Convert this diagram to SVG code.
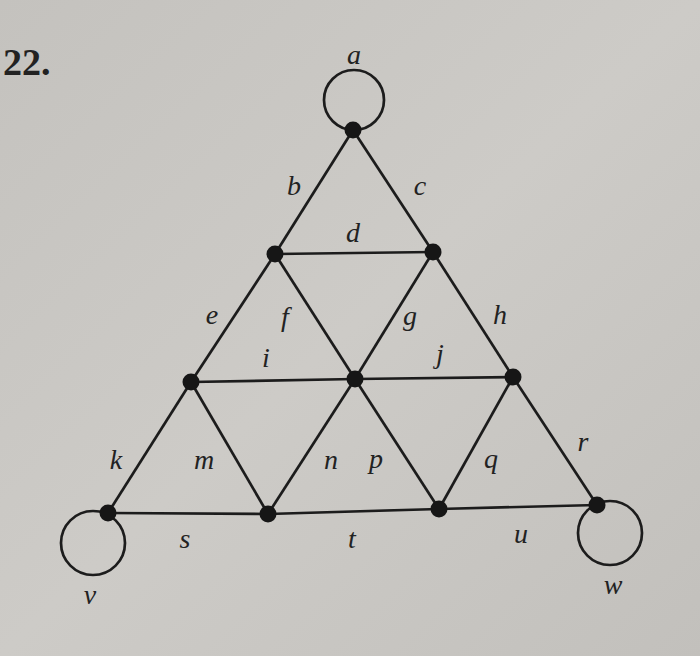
<svg xmlns="http://www.w3.org/2000/svg" width="700" height="656" viewBox="0 0 700 656">
<defs>
<linearGradient id="bg" x1="0" y1="0" x2="1" y2="1">
<stop offset="0" stop-color="#c4c2be"/>
<stop offset="0.5" stop-color="#cdcbc7"/>
<stop offset="1" stop-color="#c2c0bc"/>
</linearGradient>
<style>
.e{stroke:#1c1c1c;stroke-width:2.7;fill:none}
.n{fill:#161616}
.l{font-family:"Liberation Serif",serif;font-style:italic;font-size:28px;fill:#222;text-anchor:middle}
.t{font-family:"Liberation Serif",serif;font-weight:bold;font-size:38px;fill:#222}
</style>
</defs>
<rect width="700" height="656" fill="url(#bg)"/>
<text class="t" x="3" y="75">22.</text>
<g id="edges">
<circle class="e" cx="354" cy="100" r="30"/>
<line class="e" x1="353" y1="130" x2="275" y2="254"/>
<line class="e" x1="353" y1="130" x2="433" y2="252"/>
<line class="e" x1="275" y1="254" x2="433" y2="252"/>
<line class="e" x1="275" y1="254" x2="191" y2="382"/>
<line class="e" x1="275" y1="254" x2="355" y2="379"/>
<line class="e" x1="433" y1="252" x2="355" y2="379"/>
<line class="e" x1="433" y1="252" x2="513" y2="377"/>
<line class="e" x1="191" y1="382" x2="355" y2="379"/>
<line class="e" x1="355" y1="379" x2="513" y2="377"/>
<line class="e" x1="191" y1="382" x2="108" y2="513"/>
<line class="e" x1="191" y1="382" x2="268" y2="514"/>
<line class="e" x1="355" y1="379" x2="268" y2="514"/>
<line class="e" x1="355" y1="379" x2="439" y2="509"/>
<line class="e" x1="513" y1="377" x2="439" y2="509"/>
<line class="e" x1="513" y1="377" x2="597" y2="505"/>
<line class="e" x1="108" y1="513" x2="268" y2="514"/>
<line class="e" x1="268" y1="514" x2="439" y2="509"/>
<line class="e" x1="439" y1="509" x2="597" y2="505"/>
<circle class="e" cx="93" cy="543" r="32"/>
<circle class="e" cx="610" cy="533" r="32"/>
</g>
<g id="n1"><circle class="n" cx="353" cy="130" r="8.5"/></g>
<g id="n2"><circle class="n" cx="275" cy="254" r="8.5"/></g>
<g id="n3"><circle class="n" cx="433" cy="252" r="8.5"/></g>
<g id="n4"><circle class="n" cx="191" cy="382" r="8.5"/></g>
<g id="n5"><circle class="n" cx="355" cy="379" r="8.5"/></g>
<g id="n6"><circle class="n" cx="513" cy="377" r="8.5" fill="#2a2a2a"/></g>
<g id="n7"><circle class="n" cx="108" cy="513" r="8.5"/></g>
<g id="n8"><circle class="n" cx="268" cy="514" r="8.5"/></g>
<g id="n9"><circle class="n" cx="439" cy="509" r="8.5"/></g>
<g id="n10"><circle class="n" cx="597" cy="505" r="8.5"/></g>
<g id="labels">
<text class="l" x="354" y="64">a</text>
<text class="l" x="294" y="195">b</text>
<text class="l" x="420" y="195">c</text>
<text class="l" x="353" y="242">d</text>
<text class="l" x="212" y="324">e</text>
<text class="l" x="285" y="326">f</text>
<text class="l" x="266" y="367">i</text>
<text class="l" x="410" y="325">g</text>
<text class="l" x="500" y="324">h</text>
<text class="l" x="440" y="363">j</text>
<text class="l" x="116" y="469">k</text>
<text class="l" x="204" y="469">m</text>
<text class="l" x="331" y="469">n</text>
<text class="l" x="376" y="468">p</text>
<text class="l" x="491" y="468">q</text>
<text class="l" x="583" y="451">r</text>
<text class="l" x="185" y="548">s</text>
<text class="l" x="352" y="548">t</text>
<text class="l" x="521" y="543">u</text>
<text class="l" x="90" y="604">v</text>
<text class="l" x="613" y="594">w</text>
</g>
</svg>
